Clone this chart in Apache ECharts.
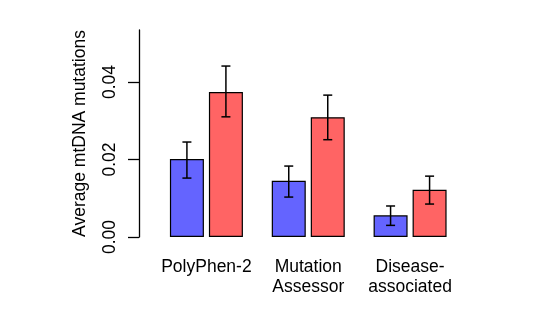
<!DOCTYPE html>
<html>
<head>
<meta charset="utf-8">
<script src="https://cdn.jsdelivr.net/npm/echarts@6/dist/echarts.min.js"></script>
<style>
  html, body { margin: 0; padding: 0; background: #fff; }
  #chart { width: 550px; height: 310px; }
</style>
</head>
<body>
<div id="chart"></div>
<script>
const categories = ["PolyPhen-2", "Mutation\nAssessor", "Disease-\nassociated"];
const blueValues = [0.0201, 0.0145, 0.0056];
const blueLow = [0.0152, 0.0103, 0.0030];
const blueHigh = [0.0245, 0.0183, 0.0080];
const redValues = [0.0374, 0.0309, 0.0122];
const redLow = [0.0310, 0.0251, 0.0085];
const redHigh = [0.0441, 0.0366, 0.0157];
const yTicks = [0, 0.02, 0.04];

const font = "Liberation Sans, Arial, sans-serif";
const barWidth = 34;
const barGap = 5;

let mychart = echarts.init(document.getElementById("chart"));

// error bars drawn with custom series, shifted to the middle of each bar
const errorSeries = (low, high, shift) => ({
  type: "custom",
  z: 10,
  data: categories.map((c, i) => [i, low[i], high[i]]),
  renderItem: (params, api) => {
    const lo = api.coord([api.value(0), api.value(1)]);
    const hi = api.coord([api.value(0), api.value(2)]);
    const x = lo[0] + shift;
    const cap = 4.5;
    const style = { stroke: "#000", lineWidth: 1.5 };
    return {
      type: "group",
      children: [
        { type: "line", shape: { x1: x, y1: lo[1], x2: x, y2: hi[1] }, style },
        { type: "line", shape: { x1: x - cap, y1: lo[1], x2: x + cap, y2: lo[1] }, style },
        { type: "line", shape: { x1: x - cap, y1: hi[1], x2: x + cap, y2: hi[1] }, style },
      ],
    };
  },
});

const shift = (barWidth + barGap) / 2;

mychart.setOption({
  animation: false,
  grid: { left: 155.5, right: 89, top: 30, bottom: 73 },
  xAxis: {
    type: "category",
    data: categories,
    axisLine: { show: false },
    axisTick: { show: false },
    axisLabel: {
      interval: 0,
      hideOverlap: false,
      fontFamily: font,
      fontSize: 17.5,
      lineHeight: 20,
      color: "#000",
      margin: 20,
    },
  },
  yAxis: {
    type: "value",
    min: 0,
    max: 0.0534,
    offset: 16.5,
    name: "Average mtDNA mutations",
    nameLocation: "middle",
    nameGap: 50,
    nameTextStyle: { fontFamily: font, fontSize: 17.5, color: "#000" },
    splitLine: { show: false },
    axisLine: { show: true, lineStyle: { color: "#000", width: 1.3 } },
    axisTick: {
      show: true,
      length: 11,
      customValues: yTicks,
      lineStyle: { color: "#000", width: 1.3 },
    },
    axisLabel: {
      customValues: yTicks,
      rotate: 90,
      margin: 20,
      fontFamily: font,
      fontSize: 17.5,
      color: "#000",
      formatter: (v) => v.toFixed(2),
    },
  },
  series: [
    {
      type: "bar",
      data: blueValues,
      barWidth: barWidth,
      barGap: (barGap / barWidth) * 100 + "%",
      itemStyle: { color: "#6464ff", borderColor: "#000", borderWidth: 1.2 },
    },
    {
      type: "bar",
      data: redValues,
      barWidth: barWidth,
      itemStyle: { color: "#ff6464", borderColor: "#000", borderWidth: 1.2 },
    },
    errorSeries(blueLow, blueHigh, -shift),
    errorSeries(redLow, redHigh, shift),
  ],
});
</script>
</body>
</html>
